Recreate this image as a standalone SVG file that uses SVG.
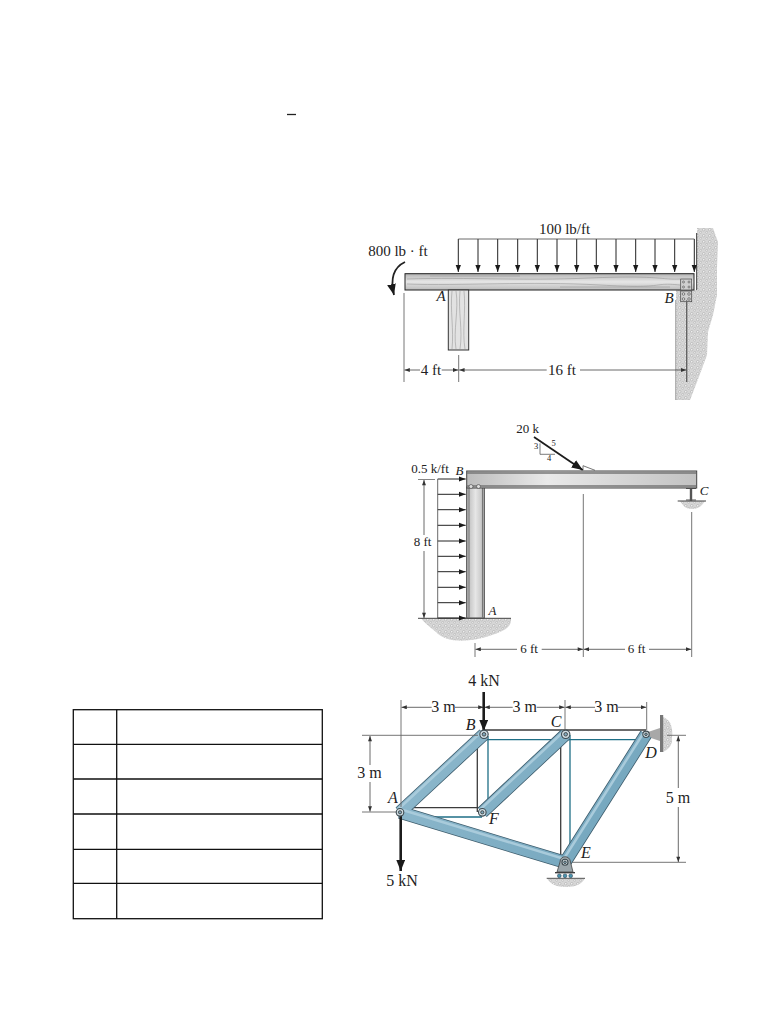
<svg xmlns="http://www.w3.org/2000/svg" width="768" height="1024" viewBox="0 0 768 1024">
<style>
text{font-family:"Liberation Serif","Times New Roman",serif;fill:#222}
.t16{font-size:16px;text-anchor:middle}
.t15{font-size:15px;text-anchor:middle}
.t13{font-size:13px;text-anchor:middle}
.t8{font-size:8.500px;text-anchor:middle}
.i{font-style:italic}
.dimA{stroke:#444;stroke-width:.8;fill:none;marker-end:url(#s)}
.ext{stroke:#666;stroke-width:.9;fill:none}
.load{stroke:#222;stroke-width:1;fill:none;marker-end:url(#m)}
.heavy{stroke:#1c1c1c;stroke-width:2.600;fill:none;marker-end:url(#h)}
.grain{stroke:#8d8d8d;stroke-width:.5;fill:none}
.pl{stroke:#3c3c3c;stroke-width:1.300;fill:none}
.plt{stroke:#1f6f86;stroke-width:1.300;fill:none}
.barO{stroke:#3e5d6d;stroke-width:13;fill:none}
.barF{stroke:url(#bg);stroke-width:11.400;fill:none}
.barH{stroke:#a9cbdb;stroke-width:2.500;fill:none}
.pinO{fill:#cfdde3;stroke:#3e4a50;stroke-width:1.100}
.pinI{fill:#7fa8bb;stroke:#333;stroke-width:.8}
.bolt{fill:#ddd;stroke:#444;stroke-width:.6}
</style>
<defs>
<marker id="s" viewBox="0 0 8 6" refX="8" refY="3" markerUnits="userSpaceOnUse" markerWidth="6" markerHeight="4" orient="auto-start-reverse"><path d="M0 0L8 3L0 6z" fill="#333"/></marker>
<marker id="m" viewBox="0 0 8 6" refX="8" refY="3" markerUnits="userSpaceOnUse" markerWidth="7" markerHeight="6" orient="auto"><path d="M0 0L8 3L0 6z" fill="#1a1a1a"/></marker>
<marker id="h" viewBox="0 0 10 8" refX="10" refY="4" markerUnits="userSpaceOnUse" markerWidth="11" markerHeight="9" orient="auto"><path d="M0 0L10 4L0 8z" fill="#1a1a1a"/></marker>
<pattern id="st" width="6" height="6" patternUnits="userSpaceOnUse"><rect width="6" height="6" fill="#d6d6d6"/><circle cx="1.700" cy="1.700" r="1.200" fill="#f2f2f2" stroke="#9c9c9c" stroke-width=".5"/><circle cx="4.700" cy="4.400" r="1" fill="#eeeeee" stroke="#a5a5a5" stroke-width=".5"/></pattern>
<linearGradient id="wood" x1="0" y1="0" x2="0" y2="1"><stop offset="0" stop-color="#b5b5b5"/><stop offset=".5" stop-color="#e6e6e6"/><stop offset="1" stop-color="#bbbbbb"/></linearGradient>
<linearGradient id="beam" x1="0" y1="0" x2="1" y2="0"><stop offset="0" stop-color="#bcbcbc"/><stop offset=".35" stop-color="#e9e9e9"/><stop offset="1" stop-color="#c2c2c2"/></linearGradient>
<linearGradient id="col" x1="0" y1="0" x2="1" y2="0"><stop offset="0" stop-color="#b8b8b8"/><stop offset=".5" stop-color="#e6e6e6"/><stop offset="1" stop-color="#bcbcbc"/></linearGradient>
<linearGradient id="bg" gradientUnits="userSpaceOnUse" x1="400" y1="730" x2="650" y2="880"><stop offset="0" stop-color="#8fb9cd"/><stop offset="1" stop-color="#6fa3bb"/></linearGradient>
<filter id="b" x="-5%" y="-5%" width="110%" height="110%"><feGaussianBlur stdDeviation=".35"/></filter>
</defs>

<path id="stray-dash" d="M287 114.500H296" stroke="#222" stroke-width="1.300"/>

<g id="table" fill="none" stroke="#111" stroke-width="1.300">
<rect x="73.300" y="709.700" width="249" height="209"/>
<path d="M116.700 709.700V918.700M73.300 744.300H322.300M73.300 779H322.300M73.300 814H322.300M73.300 849.300H322.300M73.300 883.300H322.300"/>
</g>

<g id="figure-1">
<g id="wall-1" filter="url(#b)">
<path d="M697 228L713 228L718 242L717 268L717 295L713 315L708 332L707 355L697 382L690 400L676 400V290H697Z" fill="url(#st)"/>
<path d="M696.700 233V290" stroke="#333" stroke-width="1"/>
<path d="M675.700 300V400" stroke="#888" stroke-width=".8"/>
<path d="M686.700 300V382" stroke="#333" stroke-width=".9"/>
</g>
<g id="beam-1" filter="url(#b)">
<rect x="405" y="273.700" width="289" height="16.300" fill="url(#wood)" stroke="#222" stroke-width="1"/>
<path class="grain" d="M407 279C470 277 520 281 590 278S660 280 680 279M407 284C460 286 530 281 600 285S650 282 680 285M430 276H520M560 287H670"/>
</g>
<g id="post-A" filter="url(#b)">
<rect x="448.300" y="290" width="20.400" height="60" fill="#e2e2e2" stroke="#333" stroke-width="1"/>
<path class="grain" d="M452 291C450 310 454 330 452 349M456 291C459 310 453 330 456 349M460 291C458 312 463 330 460 349M464 291C466 310 462 332 465 349"/>
</g>
<g id="joint-B">
<rect x="680.700" y="279" width="11" height="11" fill="#cfcfcf" stroke="#444" stroke-width=".7"/>
<rect x="680.700" y="291" width="11" height="10.700" fill="#cfcfcf" stroke="#444" stroke-width=".7"/>
<g class="bolt"><circle cx="683.500" cy="282" r="1"/><circle cx="689" cy="282" r="1"/><circle cx="683.500" cy="287" r="1"/><circle cx="689" cy="287" r="1"/><circle cx="683.500" cy="294" r="1.300"/><circle cx="689" cy="294" r="1.300"/><circle cx="683.500" cy="299" r="1.300"/><circle cx="689" cy="299" r="1.300"/></g>
</g>
<g id="labels-1">
<text class="t15" x="564.500" y="234">100 lb/ft</text>
<text class="t15" x="398" y="256">800 lb · ft</text>
<text class="t15 i" x="441" y="301">A</text>
<text class="t15 i" x="669" y="303">B</text>
<text class="t15" x="431" y="375">4 ft</text>
<text class="t15" x="562" y="375">16 ft</text>
</g>
</g>

<g id="figure-2">
<g id="ground-A" filter="url(#b)">
<path d="M421 618.300H511C512 628 503 631 492 635C470 643 445 643 436 632C430 627 425 624 421 618.300Z" fill="url(#st)"/>
<path d="M418 618.300H511" stroke="#444" stroke-width="1"/>
</g>
<g id="ground-C" filter="url(#b)">
<path d="M680 501H705C702 506 698 509 692 509C686 509 683 506 680 501Z" fill="url(#st)"/>
<path d="M677.700 501H706" stroke="#444" stroke-width="1"/>
<path d="M691 488V501" stroke="#555" stroke-width="2.400"/>
<path d="M686 488.500H696M686 500H696" stroke="#555" stroke-width="1.200"/>
</g>
<g id="column-AB" filter="url(#b)">
<rect x="466.700" y="487" width="17.600" height="131" fill="url(#col)" stroke="#444" stroke-width="1"/>
<path d="M469 488V618M482.500 488V618" stroke="#777" stroke-width="1.100"/>
</g>
<g id="beam-BC" filter="url(#b)">
<rect x="466.700" y="471" width="230" height="17" fill="url(#beam)" stroke="#444" stroke-width="1"/>
<path d="M467 473H696M467 486H696" stroke="#777" stroke-width="1.300"/>
<circle class="bolt" cx="471" cy="486.500" r="2"/><circle class="bolt" cx="478.500" cy="486.500" r="2"/>
</g>
<g id="slope-triangles">
<path d="M540 443.300V454.300H555" fill="none" stroke="#444" stroke-width=".7"/>
<path d="M583 470.300V465.700L595 470.300" fill="none" stroke="#555" stroke-width=".8"/>
</g>
<g id="labels-2">
<text class="t13" x="527.500" y="433.300">20 k</text>
<text class="t8" x="536" y="449">3</text>
<text class="t8" x="553.500" y="446">5</text>
<text class="t8" x="549" y="461">4</text>
<text class="t13" x="430" y="473.300">0.5 k/ft</text>
<text class="t13 i" x="459.500" y="474.500">B</text>
<text class="t13 i" x="704" y="494.500">C</text>
<text class="t13 i" x="492.500" y="615">A</text>
<text class="t13" x="422.500" y="545.500">8 ft</text>
<text class="t13" x="529" y="652.500">6 ft</text>
<text class="t13" x="636.500" y="652.500">6 ft</text>
</g>
</g>

<g id="figure-3">
<g id="wall-D" filter="url(#b)">
<path d="M663 717C672 720 673 730 672 738C673 745 668 750 663 752Z" fill="url(#st)"/>
<rect x="660" y="715" width="3.200" height="37" fill="#777"/>
<path d="M648 732L660 728V741L648 737Z" fill="#a8a8a8"/>
</g>
<g id="ground-E" filter="url(#b)">
<path d="M547 878.300H585C582 884 576 887 566 887C556 887 550 884 547 878.300Z" fill="url(#st)"/>
<path d="M546.700 878.300H585" stroke="#444" stroke-width=".9"/>
<path d="M555 872.700H575" stroke="#333" stroke-width="1.300"/>
<circle cx="559.300" cy="875.800" r="1.900" fill="#4a93ad" stroke="#234" stroke-width=".5"/><circle cx="565" cy="875.800" r="1.900" fill="#4a93ad" stroke="#234" stroke-width=".5"/><circle cx="570.700" cy="875.800" r="1.900" fill="#4a93ad" stroke="#234" stroke-width=".5"/>
</g>
<g id="connectors">
<path class="pl" d="M484 730H646M477.300 736V812M400 807.700H482M560.700 735V862"/>
<path class="plt" d="M484 739.700H648M488 736V800M482 817H420M570 735V860"/>
<g filter="url(#b)">
<path class="barO" d="M400 812.300L484 734.300M482.300 812.300L565.700 734.300M646 734.300L565 862.300M400 812.300L565 862.300"/>
<path class="barF" d="M400 812.300L484 734.300M482.300 812.300L565.700 734.300M646 734.300L565 862.300M400 812.300L565 862.300"/>
<path class="barH" d="M398.500 809L482.500 731M480.800 809L564.200 731M643.500 733L562.500 861M401 809.500L566 859.500"/>
</g>
<path class="ext" d="M401 700V807M484 700V714M565 700V729M646.700 702V730M362 735.300H478M362 812H397M667 735.300H686M572 862.300H686"/>
<path class="dimA" d="M431.700 707.300H401.500"/><path class="dimA" d="M455 707.300H483.500"/>
<path class="dimA" d="M512.700 707.300H484.500"/><path class="dimA" d="M536.700 707.300H564.500"/>
<path class="dimA" d="M595 707.300H565.500"/><path class="dimA" d="M618 707.300H646.200"/>
<path class="dimA" d="M370 765V736"/><path class="dimA" d="M370 782V811.500"/>
<path class="dimA" d="M678.300 788V736"/><path class="dimA" d="M678.300 807V862"/>
<path class="heavy" d="M483.700 692V731"/>
<path class="heavy" d="M400.700 815V871"/>
</g>
<g id="node-A"><circle class="pinO" cx="400" cy="812.300" r="3.800"/><circle class="pinI" cx="400" cy="812.300" r="1.600"/><text class="t16 i" x="393" y="803">A</text></g>
<g id="node-B"><circle class="pinO" cx="484" cy="734.300" r="4.200"/><circle class="pinI" cx="484" cy="734.300" r="1.800"/><text class="t16 i" x="470.700" y="729.500">B</text></g>
<g id="node-C"><circle class="pinO" cx="565.700" cy="734.300" r="4.200"/><circle class="pinI" cx="565.700" cy="734.300" r="1.800"/><text class="t16 i" x="556" y="726.700">C</text></g>
<g id="node-D"><circle class="pinO" cx="646" cy="734.300" r="3.200"/><circle class="pinI" cx="646" cy="734.300" r="1.300"/><text class="t16 i" x="651" y="757.700">D</text></g>
<g id="node-E"><path d="M560 862C560 855 570 855 570.500 862L573 872H557Z" fill="#9ba6ab" stroke="#444" stroke-width=".8"/><circle class="pinO" cx="565" cy="862.300" r="3"/><circle class="pinI" cx="565" cy="862.300" r="1.300"/><text class="t16 i" x="586" y="858.300">E</text></g>
<g id="node-F"><circle class="pinO" cx="482.300" cy="812.300" r="3.800"/><circle class="pinI" cx="482.300" cy="812.300" r="1.600"/><text class="t16 i" x="494" y="824">F</text></g>
<g id="labels-3">
<text class="t16" x="484" y="685.700">4 kN</text>
<text class="t16" x="402" y="885.700">5 kN</text>
<text class="t16" x="443.500" y="711.500">3 m</text>
<text class="t16" x="524.700" y="711.500">3 m</text>
<text class="t16" x="606.500" y="711.500">3 m</text>
<text class="t16" x="369.500" y="778">3 m</text>
<text class="t16" x="678" y="802.500">5 m</text>
</g>
</g>

<g id="connectors-1-2">
<g class="load">
<path d="M458.300 239V272"/><path d="M478 239V272"/><path d="M497.700 239V272"/><path d="M517.700 239V272"/><path d="M537.300 239V272"/><path d="M557 239V272"/><path d="M576.700 239V272"/><path d="M596.300 239V272"/><path d="M616 239V272"/><path d="M635.700 239V272"/><path d="M655 239V272"/><path d="M674.700 239V272"/><path d="M694.300 239V272"/>
</g>
<path d="M458.300 239H694.300" stroke="#444" stroke-width=".8"/>
<path d="M405 262Q388 270 394 295" stroke="#222" stroke-width="1.800" fill="none" marker-end="url(#h)"/>
<path class="ext" d="M404 293V382M458.700 355V382M686.700 300V382"/>
<path class="dimA" d="M420 370H404.500"/><path class="dimA" d="M441.700 370H458.300"/>
<path class="dimA" d="M546.700 370H459.200"/><path class="dimA" d="M580 370H686.200"/>
<g class="load">
<path d="M437.700 479H465.700"/><path d="M437.700 494.300H465.700"/><path d="M437.700 509.700H465.700"/><path d="M437.700 525.300H465.700"/><path d="M437.700 541H465.700"/><path d="M437.700 556.300H465.700"/><path d="M437.700 571.700H465.700"/><path d="M437.700 587.300H465.700"/><path d="M437.700 602.700H465.700"/><path d="M437.700 618H465.700"/>
</g>
<path d="M437.700 479V618" stroke="#444" stroke-width=".8"/>
<path d="M418 479.500H435" stroke="#777" stroke-width=".9"/>
<path class="dimA" d="M424 535V480"/><path class="dimA" d="M424 551V618"/>
<path d="M534 437L582.700 470" stroke="#1c1c1c" stroke-width="1.800" fill="none" marker-end="url(#h)"/>
<path class="ext" d="M475 643V657M583.300 494V657M691.700 512V657"/>
<path class="dimA" d="M517 649.300H475.500"/><path class="dimA" d="M541.700 649.300H583"/>
<path class="dimA" d="M625 649.300H583.800"/><path class="dimA" d="M649 649.300H691.200"/>
</g>
</svg>
